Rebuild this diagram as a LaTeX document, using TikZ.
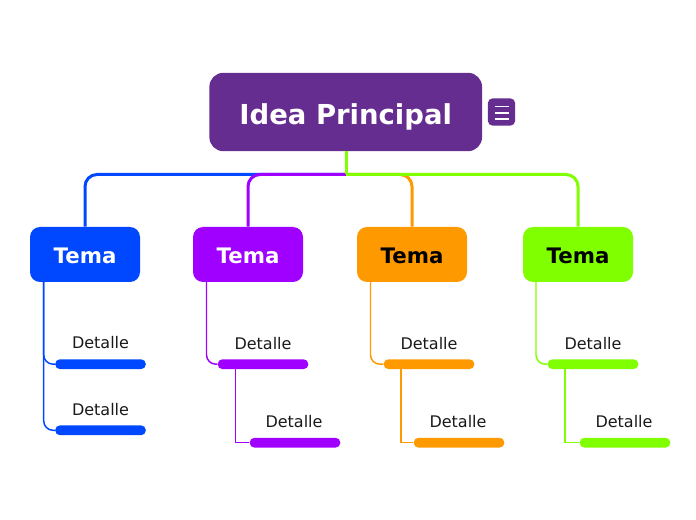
\documentclass[tikz,border=0pt]{standalone}
\usepackage{fontspec}
\setmainfont{DejaVu Sans}
\definecolor{rootcol}{HTML}{662D91}
\definecolor{bluecol}{HTML}{0048FF}
\definecolor{purplecol}{HTML}{A000FF}
\definecolor{orangecol}{HTML}{FF9900}
\definecolor{greencol}{HTML}{80FF00}
\begin{document}
\begin{tikzpicture}[x=0.75pt,y=-0.75pt]
\tikzstyle{every node}=[inner sep=0pt]
\tikzstyle{topic}=[rectangle,rounded corners=7.5pt,minimum width=82.5pt,minimum height=41.25pt,text height=13.3pt,text depth=0pt,font=\bfseries\fontsize{16}{18}\selectfont]
\tikzstyle{bar}=[rectangle,rounded corners=3.6pt,minimum width=68pt,minimum height=7.4pt]
\tikzstyle{detail}=[font=\fontsize{12}{14}\selectfont,text=black!90]
\tikzstyle{trunk}=[line width=2.25pt,rounded corners=9pt]
\tikzstyle{twig}=[line width=1.1pt]
\useasboundingbox (0,0) rectangle (696,520);
\node[rectangle,rounded corners=10.5pt,fill=rootcol,text=white,minimum width=204.5pt,minimum height=58.8pt,text height=19.5pt,text depth=0pt,font=\bfseries\fontsize{20.6}{24}\selectfont](root) at (345.7,112) {Idea Principal};
\node[rectangle,rounded corners=3.5pt,fill=rootcol,minimum width=20.4pt,minimum height=20.4pt](menu) at (501.5,112) {};
\draw[white,line width=1.4pt] (494.7,106.5) -- (508.7,106.5);
\draw[white,line width=1.4pt] (494.7,113) -- (508.7,113);
\draw[white,line width=1.4pt] (494.7,119.3) -- (508.7,119.3);
% topics
\node[topic,fill=bluecol,text=white](t1) at (85,254.5) {Tema};
\node[topic,fill=purplecol,text=white](t2) at (248,254.5) {Tema};
\node[topic,fill=orangecol,text=black](t3) at (412,254.5) {Tema};
\node[topic,fill=greencol,text=black](t4) at (578,254.5) {Tema};
\coordinate (hub) at (346,174.5);
\draw[trunk,bluecol] (hub) -| (t1.north);
\draw[trunk,orangecol] (hub) -| (t3.north);
\draw[trunk,purplecol] (hub) -| (t2.north);
\draw[trunk,greencol] (hub) -| (t4.north);
\draw[line width=2.25pt,greencol] (hub|-root.south) -- (hub);
% details
\node[bar,fill=bluecol](d1) at (100.5,364.2) {};
\node[bar,fill=bluecol](d2) at (100.5,430.3) {};
\node[bar,fill=purplecol](d3) at (263,364.2) {};
\node[bar,fill=purplecol](d4) at (295,442.7) {};
\node[bar,fill=orangecol](d5) at (429,364.2) {};
\node[bar,fill=orangecol](d6) at (459,442.7) {};
\node[bar,fill=greencol](d7) at (593,364.2) {};
\node[bar,fill=greencol](d8) at (625,442.7) {};
\node[detail](l1) at (100.5,343) {Detalle};
\node[detail](l2) at (100.5,410) {Detalle};
\node[detail](l3) at (263,344) {Detalle};
\node[detail](l4) at (294,422) {Detalle};
\node[detail](l5) at (429,344) {Detalle};
\node[detail](l6) at (458,422) {Detalle};
\node[detail](l7) at (593,344) {Detalle};
\node[detail](l8) at (624,422) {Detalle};
\coordinate (a1) at (43.7,282);
\coordinate (a2) at (206.5,282);
\coordinate (a3) at (370.5,282);
\coordinate (a4) at (536,282);
\coordinate (b2) at (235.5,364);
\coordinate (b3) at (401.2,364);
\coordinate (b4) at (565.2,364);
\draw[twig,bluecol,rounded corners=7pt] (a1) |- (d1.west);
\draw[twig,bluecol,rounded corners=7pt] (a1) |- (d2.west);
\draw[twig,purplecol,rounded corners=7pt] (a2) |- (d3.west);
\draw[twig,purplecol] (b2) |- (d4.west);
\draw[twig,orangecol,rounded corners=7pt] (a3) |- (d5.west);
\draw[twig,orangecol] (b3) |- (d6.west);
\draw[twig,greencol,rounded corners=7pt] (a4) |- (d7.west);
\draw[twig,greencol] (b4) |- (d8.west);
\end{tikzpicture}
\end{document}
